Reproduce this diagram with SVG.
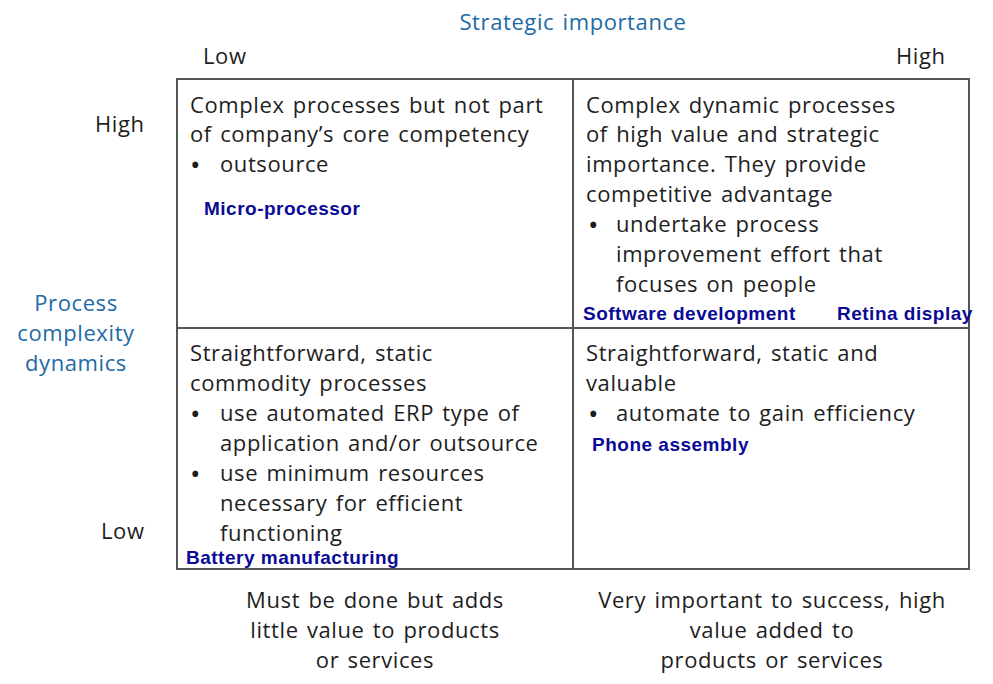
<svg xmlns="http://www.w3.org/2000/svg" width="993" height="684" viewBox="0 0 993 684">
<style>
.t{font-family:"Open Sans","Noto Sans",sans-serif;font-size:22px;letter-spacing:0.6px;word-spacing:2px;fill:#1e1e1e}
.ax{font-family:"Open Sans","Noto Sans",sans-serif;font-size:22px;letter-spacing:0.6px;word-spacing:2px;fill:#1d6aa6}
.bu{font-family:"Open Sans","Noto Sans",sans-serif;font-size:28px;fill:#1e1e1e}
.b{font-family:"Liberation Sans",Arial,sans-serif;font-size:19px;letter-spacing:0.5px;font-weight:bold;fill:#0a0a96}
.grid{fill:none;stroke:#555;stroke-width:2}
</style>
<rect width="993" height="684" fill="#fff"/>
<g id="axes">
<text class="ax" x="573" y="30" text-anchor="middle">Strategic importance</text>
<text class="t" x="203" y="64">Low</text>
<text class="t" x="896" y="64">High</text>
<text class="t" x="95" y="132">High</text>
<text class="t" x="101" y="539">Low</text>
<text class="ax" text-anchor="middle"><tspan x="76" y="311">Process</tspan><tspan x="76" y="341">complexity</tspan><tspan x="76" y="371">dynamics</tspan></text>
<text class="t" text-anchor="middle"><tspan x="375" y="608">Must be done but adds</tspan><tspan x="375" y="638">little value to products</tspan><tspan x="375" y="668">or services</tspan></text>
<text class="t" text-anchor="middle"><tspan x="772" y="608">Very important to success, high</tspan><tspan x="772" y="638">value added to</tspan><tspan x="772" y="668">products or services</tspan></text>
</g>
<g id="connectors">
<rect class="grid" x="177" y="79" width="792" height="490"/>
<line class="grid" x1="573" y1="79" x2="573" y2="569"/>
<line class="grid" x1="177" y1="328" x2="969" y2="328"/>
</g>
<g id="q-top-left">
<text class="t"><tspan x="190" y="113">Complex processes but not part</tspan><tspan x="190" y="142">of company’s core competency</tspan><tspan x="220" y="172">outsource</tspan></text>
<text class="bu" x="190" y="175">•</text>
<text class="b" x="204" y="215">Micro-processor</text>
</g>
<g id="q-top-right">
<text class="t"><tspan x="586" y="113">Complex dynamic processes</tspan><tspan x="586" y="142">of high value and strategic</tspan><tspan x="586" y="172">importance. They provide</tspan><tspan x="586" y="202">competitive advantage</tspan><tspan x="616" y="232">undertake process</tspan><tspan x="616" y="262">improvement effort that</tspan><tspan x="616" y="292">focuses on people</tspan></text>
<text class="bu" x="588" y="235">•</text>
<text class="b" x="583" y="320">Software development</text>
<text class="b" x="837" y="320">Retina display</text>
</g>
<g id="q-bottom-left">
<text class="t"><tspan x="190" y="361">Straightforward, static</tspan><tspan x="190" y="391">commodity processes</tspan><tspan x="220" y="421">use automated ERP type of</tspan><tspan x="220" y="451">application and/or outsource</tspan><tspan x="220" y="481">use minimum resources</tspan><tspan x="220" y="511">necessary for efficient</tspan><tspan x="220" y="541">functioning</tspan></text>
<text class="bu" x="190" y="424">•</text>
<text class="bu" x="190" y="484">•</text>
<text class="b" x="186" y="564">Battery manufacturing</text>
</g>
<g id="q-bottom-right">
<text class="t"><tspan x="586" y="361">Straightforward, static and</tspan><tspan x="586" y="391">valuable</tspan><tspan x="616" y="421">automate to gain efficiency</tspan></text>
<text class="bu" x="588" y="424">•</text>
<text class="b" x="592" y="451">Phone assembly</text>
</g>
</svg>
